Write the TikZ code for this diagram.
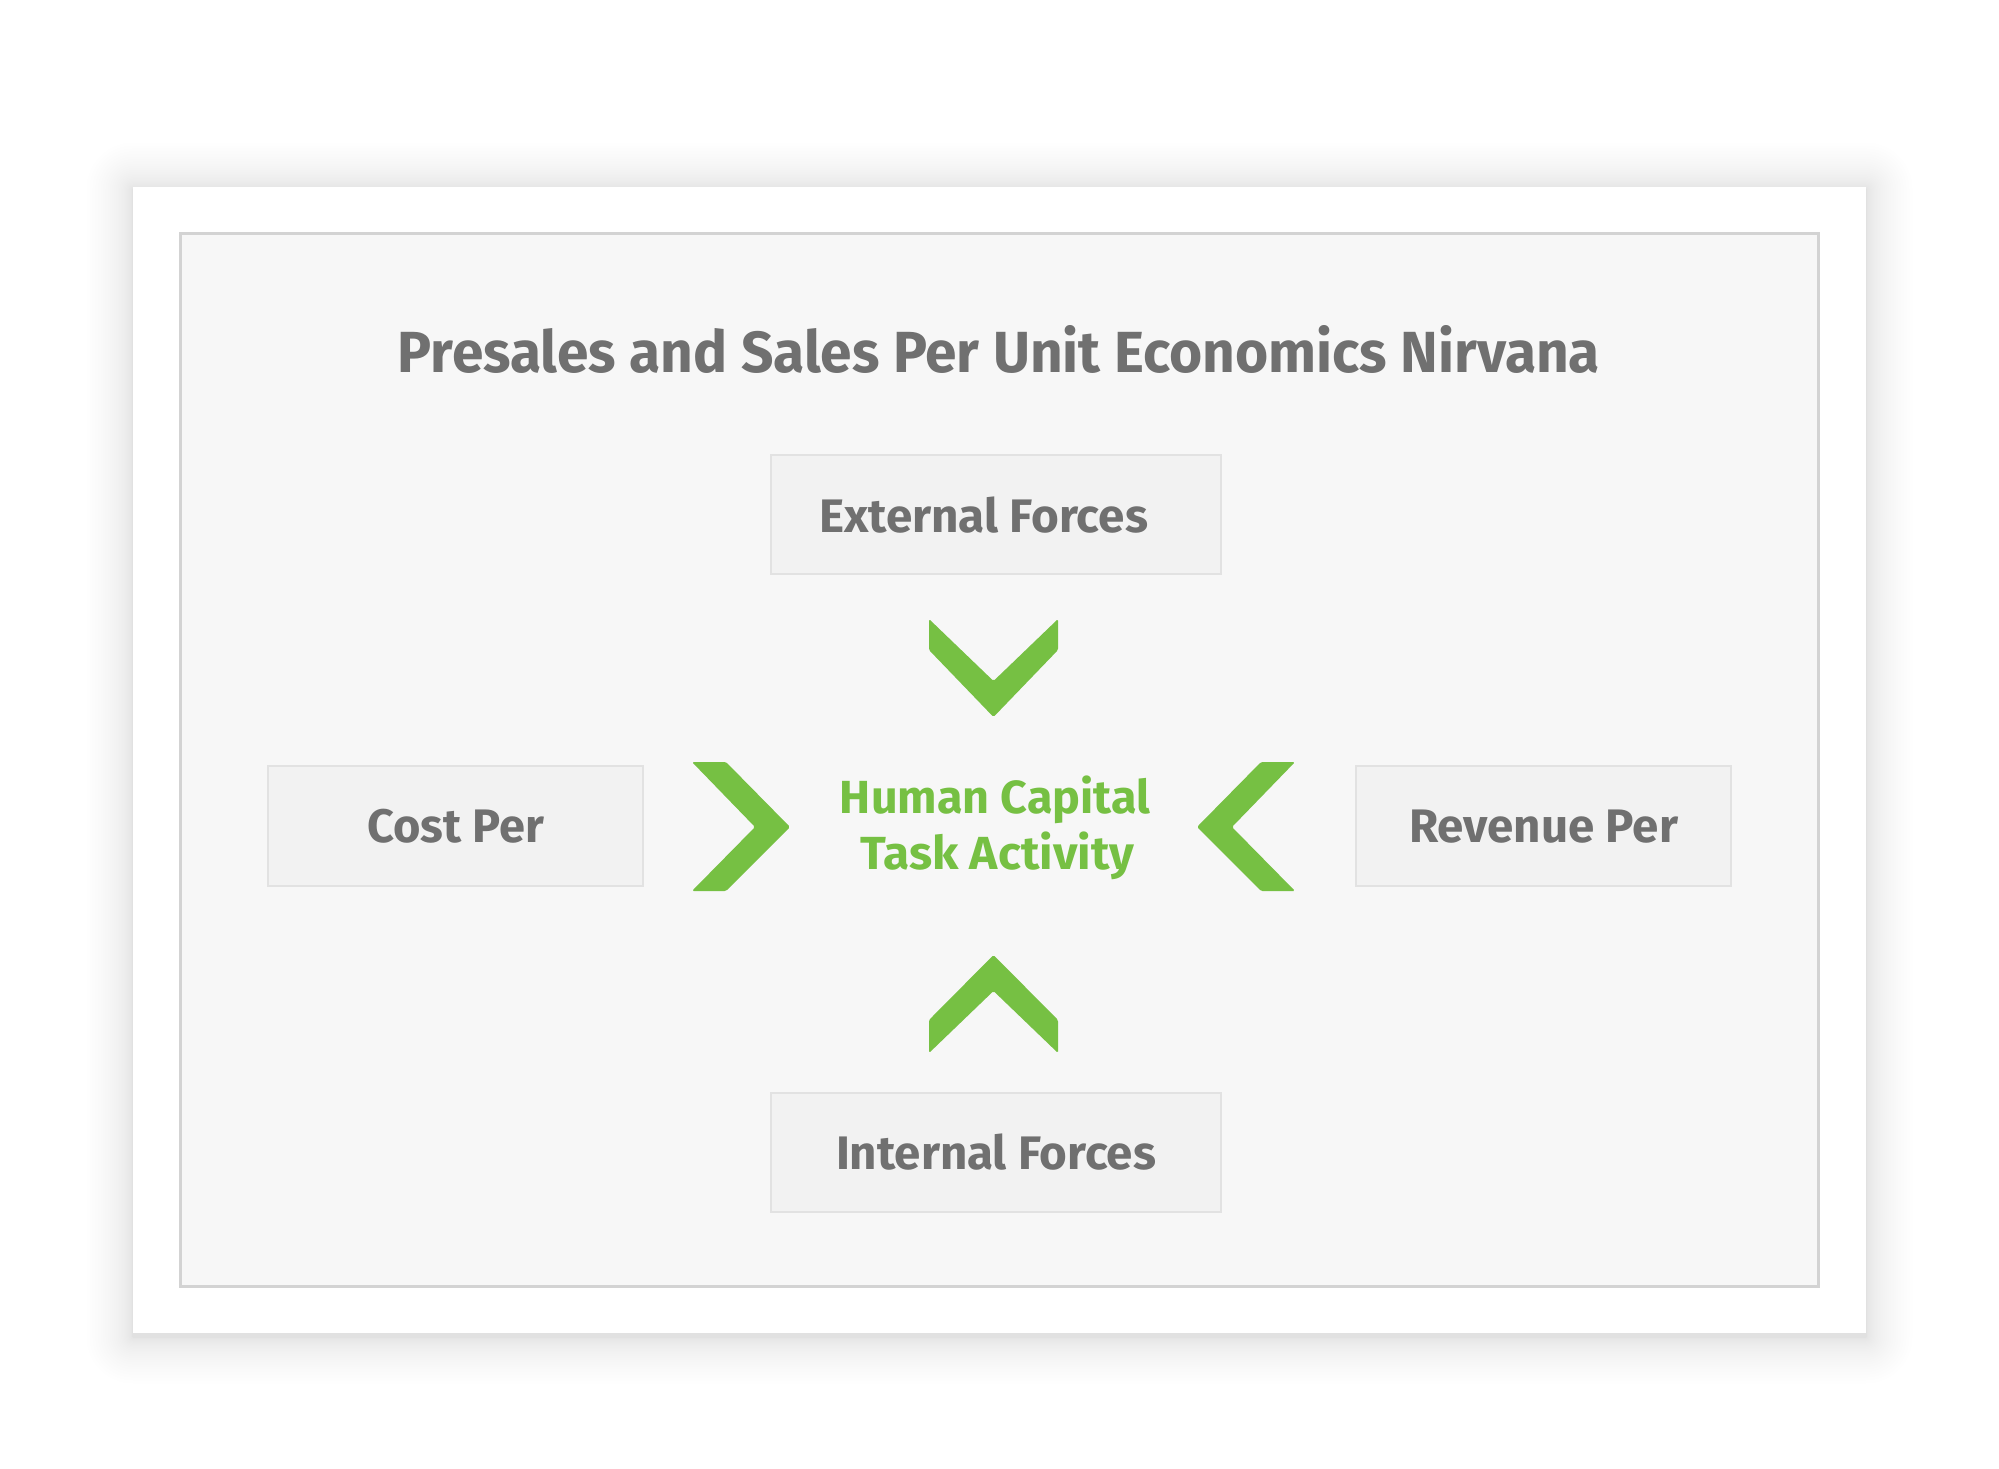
\documentclass[tikz,border=0pt]{standalone}
\usepackage{fontspec}
\setmainfont{Fira Sans}
\usepackage{graphicx}
\definecolor{txtgray}{HTML}{707070}
\definecolor{leaf}{HTML}{76C043}
\definecolor{boxfill}{HTML}{F2F2F2}
\definecolor{boxline}{HTML}{E2E2E2}
\definecolor{panelfill}{HTML}{F7F7F7}
\definecolor{panelline}{HTML}{D3D3D3}
\newcommand{\fitw}[2]{\resizebox{#1}{\height}{#2}}
\begin{document}
\begin{tikzpicture}[x=1pt,y=-1pt,
  card/.style={fill=white, draw=none, inner sep=0pt, outer sep=0pt,
    minimum width=1733pt, minimum height=1146pt},
  panel/.style={fill=panelfill, draw=panelline, line width=3pt, inner sep=0pt, outer sep=0pt,
    minimum width=1638pt, minimum height=1053pt},
  labelbox/.style={fill=boxfill, draw=boxline, line width=2pt, inner sep=0pt, outer sep=0pt},
  graytext/.style={text=txtgray, font=\bfseries\fontsize{47}{56}\selectfont, inner sep=0pt, anchor=base},
  titletext/.style={text=txtgray, font=\bfseries\fontsize{58}{70}\selectfont, inner sep=0pt, anchor=base},
  greentext/.style={text=leaf, font=\bfseries\fontsize{46.4}{56}\selectfont, inner sep=0pt, anchor=base},
  chevron/.style={fill=leaf, draw=none, rounded corners=1.5pt}]
\useasboundingbox (0,0) rectangle (1999,1468);
\fill[white] (0,0) rectangle (1999,1468);
% soft shadow (dense near the card edge, sparse further out)
\foreach \k in {1,...,30} {
  \pgfmathsetmacro{\e}{0.5+46*(\k/30)^2}
  \fill[black, opacity=0.0036, rounded corners=\e pt] (133-\e,189-\e) rectangle (1866+\e,1337+\e);
}
\node[card] (card) at (999.5,760) {};
\node[panel] (panel) at (999.5,760) {};
% boxes
\node[labelbox, minimum width=450pt, minimum height=119pt] (ext) at (996,514.5) {};
\node[labelbox, minimum width=450pt, minimum height=119pt] (int) at (996,1152.5) {};
\node[labelbox, minimum width=375pt, minimum height=120pt] (cost) at (455.5,826) {};
\node[labelbox, minimum width=375pt, minimum height=120pt] (rev) at (1543.5,826) {};
% texts
\node[titletext] (title) at (999,372) {\fitw{1202pt}{Presales and Sales Per Unit Economics Nirvana}};
\node[graytext] (extT) at (983.5,532) {\fitw{329pt}{External Forces}};
\node[graytext] (intT) at (996,1169) {\fitw{320pt}{Internal Forces}};
\node[graytext] (costT) at (455.5,842) {\fitw{177pt}{Cost Per}};
\node[graytext] (revT) at (1543.5,842) {\fitw{269pt}{Revenue Per}};
\node[greentext] (hc1) at (995,813) {\fitw{310pt}{Human Capital}};
\node[greentext] (hc2) at (997,869) {\fitw{274pt}{Task Activity}};
% chevrons
\coordinate (tipD) at (993.5,717);
\coordinate (tipU) at (993.5,955);
\coordinate (tipR) at (790,827);
\coordinate (tipL) at (1197,827);
\fill[chevron] (tipD) -- ++(-64.5,-67) -- ++(0,-31) -- ++(64.5,62) -- ++(64.5,-62) -- ++(0,31) -- cycle;
\fill[chevron] (tipU) -- ++(-64.5,65) -- ++(0,33) -- ++(64.5,-62) -- ++(64.5,62) -- ++(0,-33) -- cycle;
\fill[chevron] (tipR) -- ++(-64,-65) -- ++(-34,0) -- ++(63,65) -- ++(-63,64) -- ++(34,0) -- cycle;
\fill[chevron] (tipL) -- ++(64,-65) -- ++(34,0) -- ++(-63,65) -- ++(63,64) -- ++(-34,0) -- cycle;
\end{tikzpicture}
\end{document}
